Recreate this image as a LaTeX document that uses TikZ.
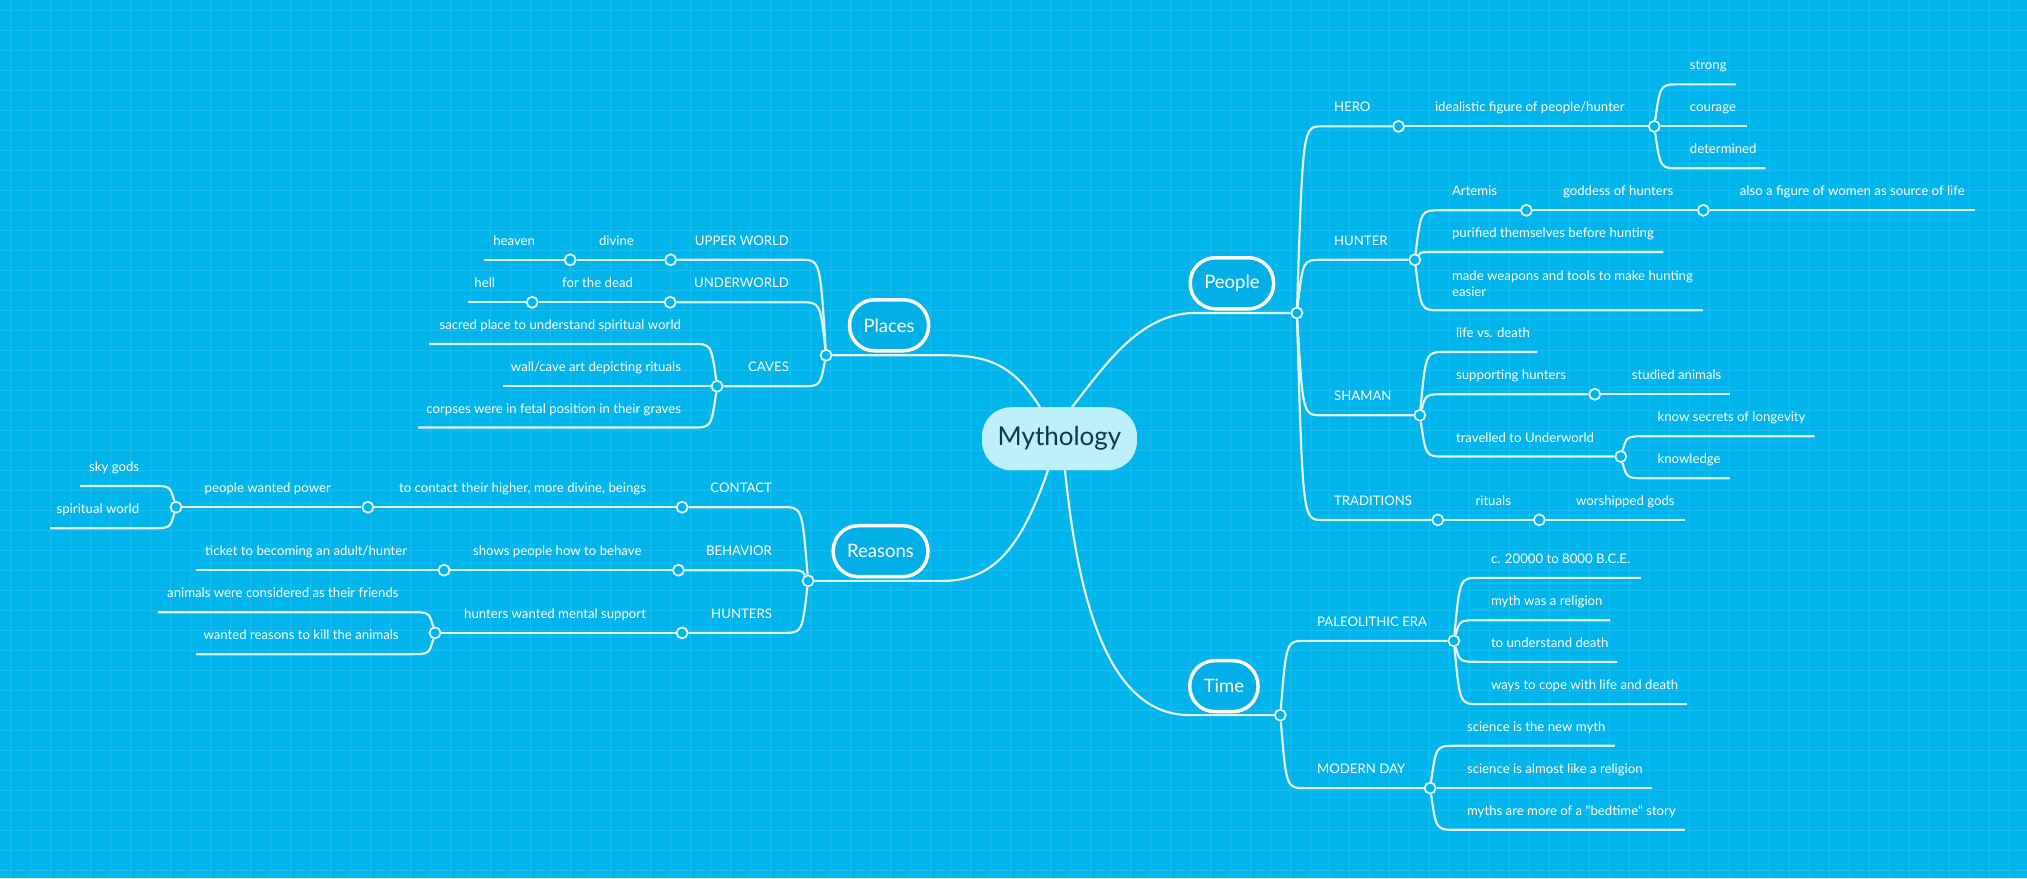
\documentclass[tikz,border=0pt]{standalone}
\usepackage{fontspec}
\setmainfont{Lato}
\newfontfamily\topicfont{Lato}
\usetikzlibrary{calc}
\definecolor{bgblue}{HTML}{00B5EC}
\definecolor{gridblue}{HTML}{19BDEF}
\definecolor{linewhite}{HTML}{E2F6FD}
\definecolor{mythfill}{HTML}{BDEFFD}
\definecolor{mythtext}{HTML}{0B3A4A}
\definecolor{mainfill}{HTML}{03AFE7}
\pgfdeclarelayer{background}
\pgfdeclarelayer{edges}
\pgfsetlayers{background,edges,main}
\tikzset{
  topicR/.style={anchor=west, text=white, font=\topicfont\fontsize{13.2}{16}\selectfont, inner sep=0pt, text height=10pt, text depth=2pt, align=left},
  topicL/.style={topicR, anchor=east},
  hubdot/.style={circle, draw=linewhite, line width=1.8pt, fill=bgblue, inner sep=0pt, minimum size=11pt},
  conn/.style={draw=linewhite, line width=2.2pt},
  mainbox/.style={draw=white, line width=3.5pt, fill=mainfill, rounded corners=25pt, minimum height=51pt, inner xsep=14pt, text=white, font=\fontsize{18.5}{22}\selectfont},
  mythbox/.style={fill=mythfill, rounded corners=29pt, minimum width=155pt, minimum height=63pt, text=mythtext, font=\fontsize{26}{30}\selectfont},
  branchR/.style={to path={let \p1=(\tikztostart), \p2=(\tikztotarget) in .. controls (\x1+6pt,\y2) .. (\x1+25pt,\y2) -- (\tikztotarget)}},
  branchL/.style={to path={let \p1=(\tikztostart), \p2=(\tikztotarget) in .. controls (\x1-6pt,\y2) .. (\x1-25pt,\y2) -- (\tikztotarget)}}
}
\begin{document}
\begin{tikzpicture}[x=1pt, y=-1pt]
  \begin{pgfonlayer}{background}
    \fill[bgblue] (0,0) rectangle (2027,878);
    \foreach \gx in {10,30,...,2020} \draw[gridblue, line width=0.8pt] (\gx,0) -- (\gx,878);
    \foreach \gy in {10,30,...,870} \draw[gridblue, line width=0.8pt] (0,\gy) -- (2027,\gy);
  \end{pgfonlayer}
  \useasboundingbox (0,0) rectangle (2027,878);

  % Central topic
  \node[mythbox] (myth) at (1059.5,438.5) {Mythology};
  \coordinate (mythPl) at (1040,407);
  \coordinate (mythPe) at (1072,407);
  \coordinate (mythRe) at (1048,470);
  \coordinate (mythTi) at (1065,470);

  % Main topics
  \node[mainbox] (places)  at (889,325)   {Places};
  \node[mainbox] (reasons) at (880.5,551) {Reasons};
  \node[mainbox] (people)  at (1232,283)  {People};
  \node[mainbox] (time)    at (1224,686)  {Time};

  % Hubs, left side
  \node[hubdot] (P0) at (826,355) {};
  \node[hubdot] (pu) at (670.5,259.5) {};
  \node[hubdot] (pd) at (570,259.5) {};
  \node[hubdot] (pw) at (670,302) {};
  \node[hubdot] (pf) at (532,302) {};
  \node[hubdot] (pc) at (717,386) {};
  \node[hubdot] (R0) at (808,580.7) {};
  \node[hubdot] (rc) at (682,507) {};
  \node[hubdot] (rt) at (367.6,507) {};
  \node[hubdot] (rp) at (175.7,507) {};
  \node[hubdot] (rb) at (678.3,570) {};
  \node[hubdot] (rs) at (443.8,570) {};
  \node[hubdot] (rh) at (682,632.7) {};
  \node[hubdot] (rw) at (434.8,632.7) {};

  % Hubs, right side
  \node[hubdot] (Q0) at (1297,312.7) {};
  \node[hubdot] (qh) at (1398.7,126) {};
  \node[hubdot] (qi) at (1654.5,126) {};
  \node[hubdot] (qu) at (1415,259.5) {};
  \node[hubdot] (qa) at (1526.6,210) {};
  \node[hubdot] (qg) at (1703.6,210) {};
  \node[hubdot] (qs) at (1420,415) {};
  \node[hubdot] (qp) at (1595,394) {};
  \node[hubdot] (qt) at (1621,456.3) {};
  \node[hubdot] (qr) at (1438,519.7) {};
  \node[hubdot] (qw) at (1539.5,519.7) {};
  \node[hubdot] (T0) at (1280.4,715) {};
  \node[hubdot] (tp) at (1454,640.7) {};
  \node[hubdot] (tm) at (1430.3,788) {};

  % Line ends
  \coordinate (eHeaven) at (484,259.5);
  \coordinate (eHell) at (468,302);
  \coordinate (eSacred) at (429,343.7);
  \coordinate (eWall) at (503,386);
  \coordinate (eCorpses) at (418,427.3);
  \coordinate (eSky) at (79.5,485.7);
  \coordinate (eSpirit) at (49.7,528);
  \coordinate (eTicket) at (195.7,570);
  \coordinate (eFriends) at (157.6,612);
  \coordinate (eKill) at (195.7,654);
  \coordinate (eStrong) at (1736.5,84);
  \coordinate (eCourage) at (1747.5,126);
  \coordinate (eDeterm) at (1766,168);
  \coordinate (eFigure) at (1975.5,210);
  \coordinate (ePurified) at (1663.5,251.7);
  \coordinate (eWeapons) at (1703,310);
  \coordinate (eLife) at (1537.5,351.7);
  \coordinate (eStudied) at (1730.7,394);
  \coordinate (eSecrets) at (1815,436);
  \coordinate (eKnow) at (1730,478);
  \coordinate (eWorship) at (1685,519.7);
  \coordinate (eCirca) at (1641,577.7);
  \coordinate (eReligion) at (1610.5,620);
  \coordinate (eDeath) at (1617.7,661.7);
  \coordinate (eCope) at (1687.4,704);
  \coordinate (eNewMyth) at (1615,745.7);
  \coordinate (eAlmost) at (1652.5,788);
  \coordinate (eBedtime) at (1685,829.7);

  % Texts, left side
  \node[topicL] (tUpper) at (789,241) {UPPER WORLD};
  \node[topicL] (tDivine) at (634,241) {divine};
  \node[topicL] (tHeaven) at (535,241) {heaven};
  \node[topicL] (tUnder) at (789,283.5) {UNDERWORLD};
  \node[topicL] (tForDead) at (633,283.5) {for the dead};
  \node[topicL] (tHell) at (495,283.5) {hell};
  \node[topicL] (tCaves) at (789,367.5) {CAVES};
  \node[topicL] (tSacred) at (681,325.2) {sacred place to understand spiritual world};
  \node[topicL] (tWall) at (681,367.5) {wall/cave art depicting rituals};
  \node[topicL] (tCorpses) at (681,408.8) {corpses were in fetal position in their graves};
  \node[topicL] (tContact) at (772,488.5) {CONTACT};
  \node[topicL] (tToContact) at (646,488.5) {to contact their higher, more divine, beings};
  \node[topicL] (tPower) at (330.7,488.5) {people wanted power};
  \node[topicL] (tSky) at (139,467.2) {sky gods};
  \node[topicL] (tSpirit) at (139,509.5) {spiritual world};
  \node[topicL] (tBehav) at (772,551.5) {BEHAVIOR};
  \node[topicL] (tShows) at (641.5,551.5) {shows people how to behave};
  \node[topicL] (tTicket) at (407,551.5) {ticket to becoming an adult/hunter};
  \node[topicL] (tHunters) at (772,614.2) {HUNTERS};
  \node[topicL] (tMental) at (646,614.2) {hunters wanted mental support};
  \node[topicL] (tFriends) at (398.6,593.5) {animals were considered as their friends};
  \node[topicL] (tKill) at (398.6,635.5) {wanted reasons to kill the animals};

  % Texts, right side
  \node[topicR] (tHero) at (1334,107.5) {HERO};
  \node[topicR] (tIdeal) at (1435,107.5) {idealistic figure of people/hunter};
  \node[topicR] (tStrong) at (1690,65.5) {strong};
  \node[topicR] (tCourage) at (1690,107.5) {courage};
  \node[topicR] (tDeterm) at (1690,149.5) {determined};
  \node[topicR] (tHunter) at (1334,241) {HUNTER};
  \node[topicR] (tArtemis) at (1452,191.5) {Artemis};
  \node[topicR] (tGoddess) at (1563,191.5) {goddess of hunters};
  \node[topicR] (tFigure) at (1740,191.5) {also a figure of women as source of life};
  \node[topicR] (tPurified) at (1452,233.2) {purified themselves before hunting};
  \node[topicR, text height={}, text depth={}] (tWeapons) at (1452,283.7) {made weapons and tools to make hunting\\easier};
  \node[topicR] (tShaman) at (1334,396.5) {SHAMAN};
  \node[topicR] (tLife) at (1456,333.2) {life vs. death};
  \node[topicR] (tSupport) at (1456,375.5) {supporting hunters};
  \node[topicR] (tStudied) at (1632,375.5) {studied animals};
  \node[topicR] (tTravel) at (1456,437.8) {travelled to Underworld};
  \node[topicR] (tSecrets) at (1657.7,417.5) {know secrets of longevity};
  \node[topicR] (tKnow) at (1657.7,459.5) {knowledge};
  \node[topicR] (tTrad) at (1334,501.2) {TRADITIONS};
  \node[topicR] (tRituals) at (1475.5,501.2) {rituals};
  \node[topicR] (tWorship) at (1576,501.2) {worshipped gods};
  \node[topicR] (tPaleo) at (1317,622.2) {PALEOLITHIC ERA};
  \node[topicR] (tCirca) at (1491,559.2) {c. 20000 to 8000 B.C.E.};
  \node[topicR] (tReligion) at (1491,601.5) {myth was a religion};
  \node[topicR] (tDeath) at (1491,643.2) {to understand death};
  \node[topicR] (tCope) at (1491,685.5) {ways to cope with life and death};
  \node[topicR] (tModern) at (1317,769.5) {MODERN DAY};
  \node[topicR] (tNewMyth) at (1467,727.2) {science is the new myth};
  \node[topicR] (tAlmost) at (1467,769.5) {science is almost like a religion};
  \node[topicR] (tBedtime) at (1467,811.2) {myths are more of a "bedtime" story};

  \begin{pgfonlayer}{edges}
    % Main branches
    \draw[conn] (mythPl) .. controls (1012,362) and (985,355) .. (943,355) -- (P0);
    \draw[conn] (mythPe) .. controls (1105,365) and (1140,312.7) .. (1195,312.7) -- (Q0);
    \draw[conn] (mythRe) .. controls (1022,545) and (995,580.7) .. (943,580.7) -- (R0);
    \draw[conn] (mythTi) .. controls (1080,620) and (1115,715) .. (1190,715) -- (T0);

    % Places
    \draw[conn] (P0) to[branchL] (pu);
    \draw[conn] (pu) -- (pd);
    \draw[conn] (pd) -- (eHeaven);
    \draw[conn] (P0) to[branchL] (pw);
    \draw[conn] (pw) -- (pf);
    \draw[conn] (pf) -- (eHell);
    \draw[conn] (P0) to[branchL] (pc);
    \draw[conn] (pc) to[branchL] (eSacred);
    \draw[conn] (pc) -- (eWall);
    \draw[conn] (pc) to[branchL] (eCorpses);

    % Reasons
    \draw[conn] (R0) to[branchL] (rc);
    \draw[conn] (rc) -- (rt);
    \draw[conn] (rt) -- (rp);
    \draw[conn] (rp) to[branchL] (eSky);
    \draw[conn] (rp) to[branchL] (eSpirit);
    \draw[conn] (R0) to[branchL] (rb);
    \draw[conn] (rb) -- (rs);
    \draw[conn] (rs) -- (eTicket);
    \draw[conn] (R0) to[branchL] (rh);
    \draw[conn] (rh) -- (rw);
    \draw[conn] (rw) to[branchL] (eFriends);
    \draw[conn] (rw) to[branchL] (eKill);

    % People
    \draw[conn] (Q0) to[branchR] (qh);
    \draw[conn] (qh) -- (qi);
    \draw[conn] (qi) to[branchR] (eStrong);
    \draw[conn] (qi) -- (eCourage);
    \draw[conn] (qi) to[branchR] (eDeterm);
    \draw[conn] (Q0) to[branchR] (qu);
    \draw[conn] (qu) to[branchR] (qa);
    \draw[conn] (qa) -- (qg);
    \draw[conn] (qg) -- (eFigure);
    \draw[conn] (qu) to[branchR] (ePurified);
    \draw[conn] (qu) to[branchR] (eWeapons);
    \draw[conn] (Q0) to[branchR] (qs);
    \draw[conn] (qs) to[branchR] (eLife);
    \draw[conn] (qs) to[branchR] (qp);
    \draw[conn] (qp) -- (eStudied);
    \draw[conn] (qs) to[branchR] (qt);
    \draw[conn] (qt) to[branchR] (eSecrets);
    \draw[conn] (qt) to[branchR] (eKnow);
    \draw[conn] (Q0) to[branchR] (qr);
    \draw[conn] (qr) -- (qw);
    \draw[conn] (qw) -- (eWorship);

    % Time
    \draw[conn] (T0) to[branchR] (tp);
    \draw[conn] (tp) to[branchR] (eCirca);
    \draw[conn] (tp) to[branchR] (eReligion);
    \draw[conn] (tp) to[branchR] (eDeath);
    \draw[conn] (tp) to[branchR] (eCope);
    \draw[conn] (T0) to[branchR] (tm);
    \draw[conn] (tm) to[branchR] (eNewMyth);
    \draw[conn] (tm) -- (eAlmost);
    \draw[conn] (tm) to[branchR] (eBedtime);
  \end{pgfonlayer}
\end{tikzpicture}
\end{document}
